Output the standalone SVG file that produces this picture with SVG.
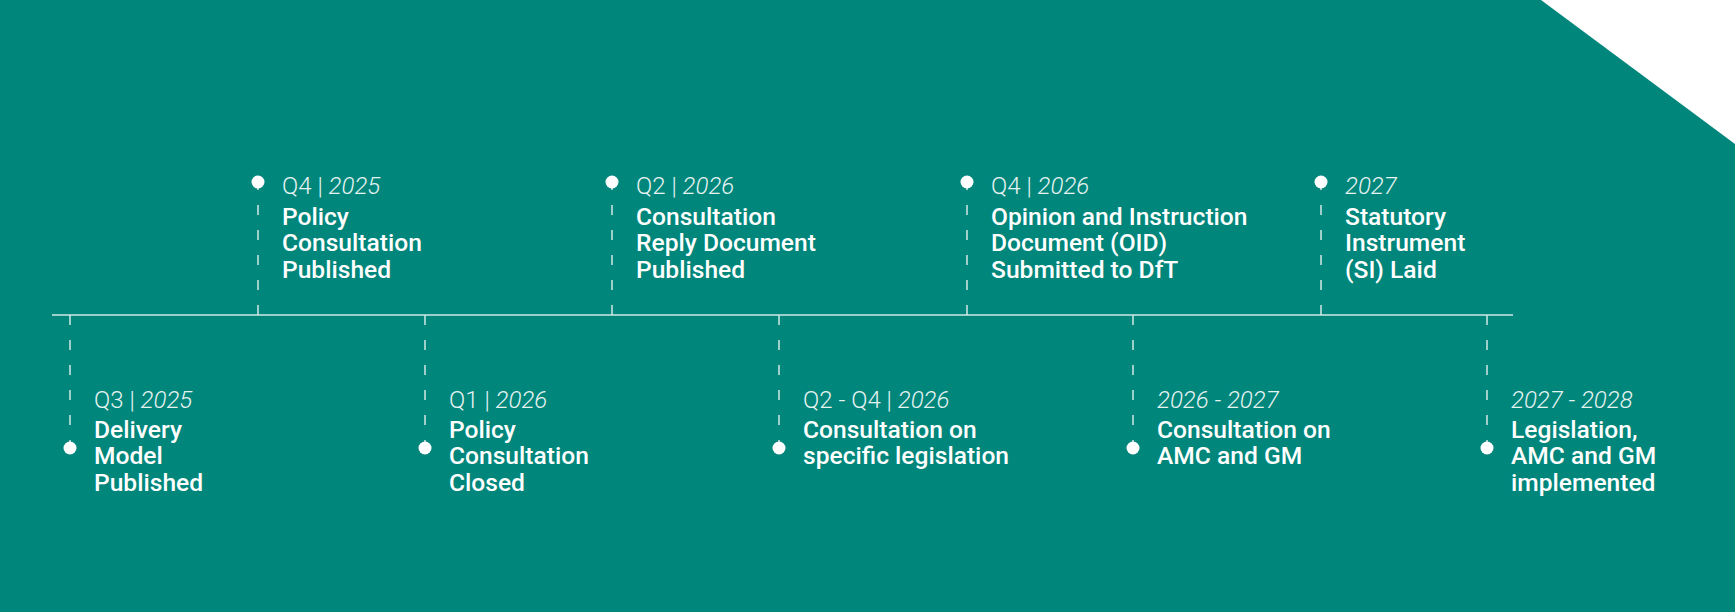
<svg xmlns="http://www.w3.org/2000/svg" width="1735" height="612" viewBox="0 0 1735 612">
<style>
.date{font-family:Roboto,"Liberation Sans",sans-serif;font-size:24px;font-weight:300;fill:#e6f3f1}
.date .it{font-style:italic}
.title{font-family:Roboto,"Liberation Sans",sans-serif;font-size:24.6px;font-weight:500;fill:#ffffff}
.dash{stroke:#d2e9e6;stroke-width:1.5;stroke-dasharray:10 15;fill:none}
.dot{fill:#ffffff}
</style>
<rect x="0" y="0" width="1735" height="612" fill="#00867b"/>
<polygon points="1541,0 1735,0 1735,144" fill="#ffffff"/>
<g id="connectors">
<line x1="52" y1="315" x2="1513" y2="315" stroke="#d2e9e6" stroke-width="1.5"/>
<line class="dash" x1="70" y1="315" x2="70" y2="448"/>
<line class="dash" x1="258" y1="315" x2="258" y2="182"/>
<line class="dash" x1="425" y1="315" x2="425" y2="448"/>
<line class="dash" x1="612" y1="315" x2="612" y2="182"/>
<line class="dash" x1="779" y1="315" x2="779" y2="448"/>
<line class="dash" x1="967" y1="315" x2="967" y2="182"/>
<line class="dash" x1="1133" y1="315" x2="1133" y2="448"/>
<line class="dash" x1="1321" y1="315" x2="1321" y2="182"/>
<line class="dash" x1="1487" y1="315" x2="1487" y2="448"/>
</g>
<g id="n1">
<circle class="dot" cx="70" cy="448" r="6.5"/>
<text class="date" x="94" y="408">Q3 | <tspan class="it">2025</tspan></text>
<text class="title" x="94" y="438">Delivery<tspan x="94" dy="26.3">Model</tspan><tspan x="94" dy="26.3">Published</tspan></text>
</g>
<g id="n2">
<circle class="dot" cx="258" cy="182" r="6.5"/>
<text class="date" x="282" y="194">Q4 | <tspan class="it">2025</tspan></text>
<text class="title" x="282" y="225">Policy<tspan x="282" dy="26.3">Consultation</tspan><tspan x="282" dy="26.3">Published</tspan></text>
</g>
<g id="n3">
<circle class="dot" cx="425" cy="448" r="6.5"/>
<text class="date" x="449" y="408">Q1 | <tspan class="it">2026</tspan></text>
<text class="title" x="449" y="438">Policy<tspan x="449" dy="26.3">Consultation</tspan><tspan x="449" dy="26.3">Closed</tspan></text>
</g>
<g id="n4">
<circle class="dot" cx="612" cy="182" r="6.5"/>
<text class="date" x="636" y="194">Q2 | <tspan class="it">2026</tspan></text>
<text class="title" x="636" y="225">Consultation<tspan x="636" dy="26.3">Reply Document</tspan><tspan x="636" dy="26.3">Published</tspan></text>
</g>
<g id="n5">
<circle class="dot" cx="779" cy="448" r="6.5"/>
<text class="date" x="803" y="408">Q2 - Q4 | <tspan class="it">2026</tspan></text>
<text class="title" x="803" y="438">Consultation on<tspan x="803" dy="26.3">specific legislation</tspan></text>
</g>
<g id="n6">
<circle class="dot" cx="967" cy="182" r="6.5"/>
<text class="date" x="991" y="194">Q4 | <tspan class="it">2026</tspan></text>
<text class="title" x="991" y="225">Opinion and Instruction<tspan x="991" dy="26.3">Document (OID)</tspan><tspan x="991" dy="26.3">Submitted to DfT</tspan></text>
</g>
<g id="n7">
<circle class="dot" cx="1133" cy="448" r="6.5"/>
<text class="date" x="1157" y="408"><tspan class="it">2026 - 2027</tspan></text>
<text class="title" x="1157" y="438">Consultation on<tspan x="1157" dy="26.3">AMC and GM</tspan></text>
</g>
<g id="n8">
<circle class="dot" cx="1321" cy="182" r="6.5"/>
<text class="date" x="1345" y="194"><tspan class="it">2027</tspan></text>
<text class="title" x="1345" y="225">Statutory<tspan x="1345" dy="26.3">Instrument</tspan><tspan x="1345" dy="26.3">(SI) Laid</tspan></text>
</g>
<g id="n9">
<circle class="dot" cx="1487" cy="448" r="6.5"/>
<text class="date" x="1511" y="408"><tspan class="it">2027 - 2028</tspan></text>
<text class="title" x="1511" y="438">Legislation,<tspan x="1511" dy="26.3">AMC and GM</tspan><tspan x="1511" dy="26.3">implemented</tspan></text>
</g>
</svg>
